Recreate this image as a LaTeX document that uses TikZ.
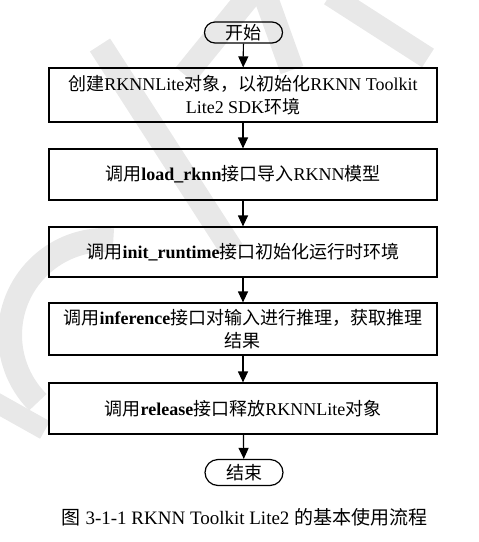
\documentclass[tikz,border=0pt]{standalone}
\usepackage{fontspec}
\setmainfont{Liberation Serif}
\newfontfamily\cjk{Noto Sans CJK SC}
\newcommand{\zh}[1]{{\cjk #1}}
\usetikzlibrary{arrows.meta}
\begin{document}
\begin{tikzpicture}[x=1pt,y=-1pt,
  wm/.style={line width=24pt,draw=black!9,line cap=butt},
  box/.style={draw,line width=1.2pt,minimum width=388pt,align=center,inner sep=0pt,
    font=\fontsize{18}{23}\selectfont},
  term/.style={draw,line width=1.2pt,minimum width=78pt,inner sep=0pt,
    font=\fontsize{18}{22}\selectfont},
  arr/.style={line width=1.2pt,-{Triangle[length=11pt,width=10pt]}}]
\useasboundingbox (0,0) rectangle (479,542);
% watermark
\draw[wm] (100,45) -- (232,250);
\draw[wm] (185,75) -- (250,-5);
\draw[wm] (265,-5) -- (292,70);
\draw[wm,line width=22pt] (330,-5) -- (428,58);
\draw[wm] (113.3,240.4) arc[start angle=-85,end angle=-225,radius=95];
\draw[wm,line width=20pt] (-5,402) -- (45,430);
% nodes
\node[term,minimum height=21pt,rounded corners=10.5pt] (s) at (243.5,32.5) {\zh{开始}};
\node[box,minimum height=54pt] (b1) at (243,95) {\zh{创建}RKNNLite\zh{对象，以初始化}RKNN Toolkit\\Lite2 SDK\zh{环境}};
\node[box,minimum height=51pt] (b2) at (243,174.5) {\zh{调用}\textbf{load\_rknn}\zh{接口导入}RKNN\zh{模型}};
\node[box,minimum height=50pt] (b3) at (243,252) {\zh{调用}\textbf{init\_runtime}\zh{接口初始化运行时环境}};
\node[box,minimum height=52pt] (b4) at (243,329) {\zh{调用}\textbf{inference}\zh{接口对输入进行推理，获取推理}\\\zh{结果}};
\node[box,minimum height=51pt] (b5) at (243,408.5) {\zh{调用}\textbf{release}\zh{接口释放}RKNNLite\zh{对象}};
\node[term,minimum height=26pt,rounded corners=13pt] (e) at (244,472.5) {\zh{结束}};
\node[font=\fontsize{19}{22}\selectfont,inner sep=0pt] (cap) at (244.5,517) {\zh{图} 3-1-1 RKNN Toolkit Lite2 \zh{的基本使用流程}};
% arrows
\draw[arr] (s) -- (b1);
\draw[arr] (b1) -- (b2);
\draw[arr] (b2) -- (b3);
\draw[arr] (b3) -- (b4);
\draw[arr] (b4) -- (b5);
\draw[arr] (b5) -- (e);
\end{tikzpicture}
\end{document}
